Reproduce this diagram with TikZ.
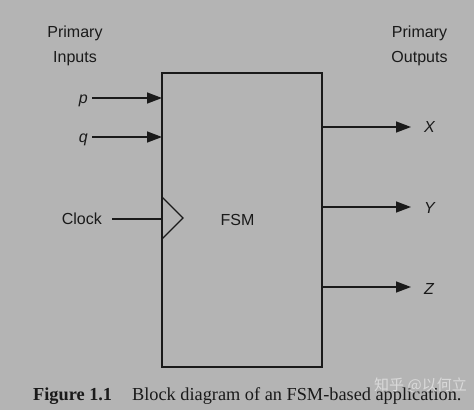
\documentclass[tikz,border=0pt]{standalone}
\usepackage{fontspec}
\setmainfont{Liberation Sans}
\newfontfamily\capfont{Liberation Serif}
\newfontfamily\cjkfont{Noto Sans CJK SC}
\usetikzlibrary{arrows.meta}
\definecolor{bg}{HTML}{B4B4B4}
\definecolor{ink}{HTML}{1A1A1A}
\tikzset{
  lbl/.style={font=\fontsize{16}{19}\selectfont, text=ink, inner sep=0pt},
  sig/.style={draw=ink, line width=1.4pt, -{Triangle[length=15pt,width=11pt]}},
  wire/.style={draw=ink, line width=1.4pt},
}
\begin{document}
\begin{tikzpicture}[x=1pt,y=-1pt]
\fill[bg] (0,0) rectangle (474,410);
\useasboundingbox (0,0) rectangle (474,410);
% FSM box
\draw[ink, line width=1.2pt] (162,73) rectangle (322,367);
\node[lbl, anchor=base] (fsm) at (237.5,225) {FSM};
% headings
\node[lbl, anchor=base] (pin1t) at (75,37) {Primary};
\node[lbl, anchor=base] (pin2t) at (75,62) {Inputs};
\node[lbl, anchor=base] (pout1t) at (419.5,37) {Primary};
\node[lbl, anchor=base] (pout2t) at (419.5,62) {Outputs};
% inputs
\node[lbl, anchor=base east] (p) at (88,103) {\itshape p};
\node[lbl, anchor=base east] (q) at (88,142) {\itshape q};
\node[lbl, anchor=base east] (clk) at (102,224) {Clock};
\coordinate (ps) at (92,98);
\coordinate (qs) at (92,137);
\coordinate (cs) at (112,219);
\coordinate (pin1) at (162,98);
\coordinate (pin2) at (162,137);
\coordinate (clkin) at (162,219);
\draw[sig] (ps) -- (pin1);
\draw[sig] (qs) -- (pin2);
\draw[wire] (cs) -- (clkin);
\draw[draw=ink, line width=1.2pt] (162,197) -- (183,218) -- (162,239);
% outputs
\node[lbl, anchor=base west] (X) at (424,132) {\itshape X};
\node[lbl, anchor=base west] (Y) at (424,213) {\itshape Y};
\node[lbl, anchor=base west] (Z) at (424,294) {\itshape Z};
\coordinate (o1) at (322,127);
\coordinate (o2) at (322,207);
\coordinate (o3) at (322,287);
\coordinate (e1) at (411,127);
\coordinate (e2) at (411,207);
\coordinate (e3) at (411,287);
\draw[sig] (o1) -- (e1);
\draw[sig] (o2) -- (e2);
\draw[sig] (o3) -- (e3);
% caption
\node[anchor=base west, inner sep=0pt, text=ink, font=\capfont\fontsize{18.3}{20}\selectfont] (cap) at (33,400) {\textbf{Figure 1.1}\hspace{20pt}Block diagram of an FSM-based application.};
\node[anchor=west, inner sep=0pt, text=white, opacity=0.5, font=\cjkfont\fontsize{15}{18}\selectfont] (wm) at (374,385) {知乎 @以何立};
\end{tikzpicture}
\end{document}
